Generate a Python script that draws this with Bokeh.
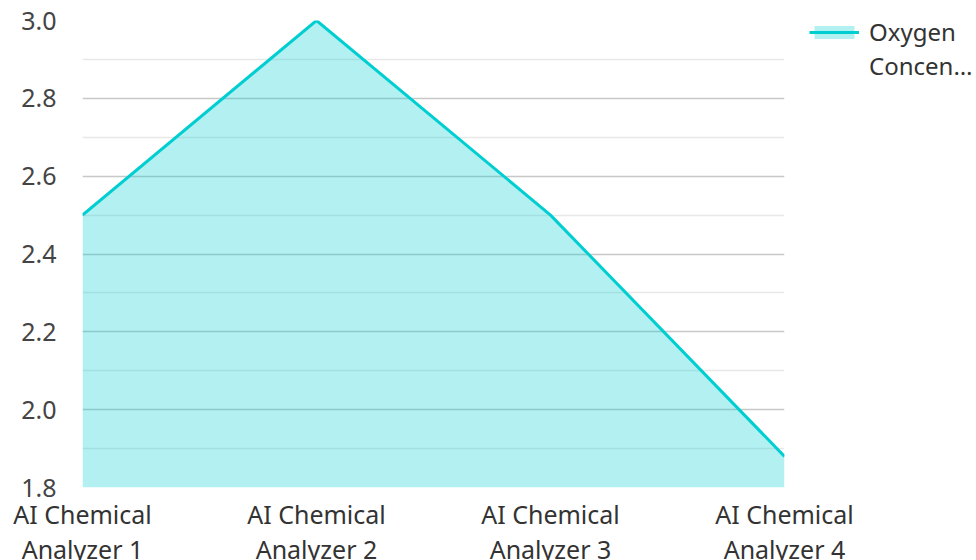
from bokeh.plotting import figure
from bokeh.models import ColumnDataSource, FixedTicker, Legend, LegendItem, NumeralTickFormatter, LinearAxis
from bokeh.embed import file_html
from bokeh.resources import INLINE

cat_line1 = ["AI Chemical", "AI Chemical", "AI Chemical", "AI Chemical"]
cat_line2 = ["Analyzer 1", "Analyzer 2", "Analyzer 3", "Analyzer 4"]
oxygen = [2.5, 3.0, 2.5, 1.88]
y_ticks = [1.8, 2.0, 2.2, 2.4, 2.6, 2.8, 3.0]
y_minor = [1.9, 2.1, 2.3, 2.5, 2.7, 2.9]
series_lines = ["Oxygen", "Concen…"]

xs = list(range(len(cat_line1)))
src = ColumnDataSource(dict(x=xs, y=oxygen, base=[1.8] * len(xs)))

p = figure(width=976, height=560, output_backend="svg", toolbar_location=None,
           x_range=(0, len(xs) - 1), y_range=(1.8, 3.0),
           frame_width=702, frame_height=467,
           min_border_left=82, min_border_top=20, min_border_right=10, min_border_bottom=0)
p.outline_line_color = None
p.background_fill_color = "white"

FONT = "Noto Sans"
LINE = "#00CED1"

area = p.varea(x="x", y1="base", y2="y", source=src, fill_color=LINE, fill_alpha=0.3)
ln = p.line(x="x", y="y", source=src, line_color=LINE, line_width=3)
ghost = p.line(x="x", y="y", source=src, line_alpha=0)

def style_x(ax, labels, standoff):
    ax.ticker = FixedTicker(ticks=xs)
    ax.major_label_overrides = {i: c for i, c in enumerate(labels)}
    ax.axis_line_color = None
    ax.major_tick_line_color = None
    ax.minor_tick_line_color = None
    ax.major_label_text_font = FONT
    ax.major_label_text_font_size = "25px"
    ax.major_label_text_color = "#333333"
    ax.major_label_standoff = standoff

style_x(p.xaxis[0], cat_line1, 3)
ax2 = LinearAxis()
style_x(ax2, cat_line2, -8)
p.add_layout(ax2, "below")

p.yaxis.ticker = FixedTicker(ticks=y_ticks, minor_ticks=y_minor)
p.yaxis.formatter = NumeralTickFormatter(format="0.0")
p.yaxis.axis_line_color = None
p.yaxis.major_tick_line_color = None
p.yaxis.minor_tick_line_color = None
p.yaxis.major_label_text_font = FONT
p.yaxis.major_label_text_font_size = "25px"
p.yaxis.major_label_text_color = "#444444"
p.yaxis.major_label_standoff = 20

p.xgrid.grid_line_color = None
p.ygrid.grid_line_color = "#c8c8c8"
p.ygrid.grid_line_width = 1.5
p.ygrid.minor_grid_line_color = "#e8e8e8"
p.ygrid.minor_grid_line_width = 1.5

legend = Legend(items=[LegendItem(label=series_lines[0], renderers=[area, ln]),
                       LegendItem(label=series_lines[1], renderers=[ghost])],
                location=(25, 405), border_line_color=None, background_fill_alpha=0,
                label_text_font=FONT, label_text_font_size="24px", label_text_color="#333333",
                glyph_width=50, glyph_height=16, margin=0, padding=0, spacing=1,
                label_standoff=10, label_height=22)
p.add_layout(legend, "right")

open("out.html", "w").write(file_html(p, INLINE))
